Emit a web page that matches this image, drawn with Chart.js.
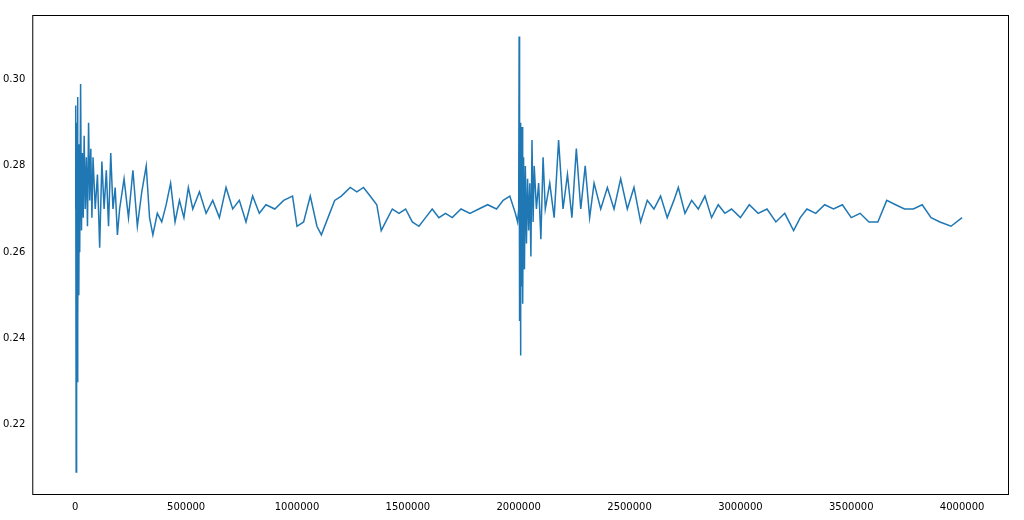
<!DOCTYPE html>
<html>
<head>
<script src="https://cdn.jsdelivr.net/npm/chart.js@4"></script>
<style>
  body { margin: 0; background: #fff; }
  #wrap { width: 1024px; height: 520px; }
</style>
</head>
<body>
<div id="wrap"><canvas id="lineChart"></canvas></div>
<script>
// x in thousands of steps
const stepsK = [0,2,4,6,8,10,12,14,16,18,20,24,28,32,36,40,45,50,55,60,65,70,75,80,90,100,110,120,130,140,150,160,170,180,190,200,220,240,260,280,300,320,335,350,370,390,410,430,450,470,490,510,530,560,590,620,650,680,710,740,770,800,830,860,900,940,980,1000,1030,1060,1090,1110,1140,1170,1200,1240,1270,1300,1330,1360,1380,1400,1430,1460,1490,1520,1550,1580,1610,1640,1670,1700,1740,1780,1820,1860,1900,1930,1960,1985,1995,2000,2002,2004,2006,2008,2010,2012,2015,2018,2022,2026,2030,2035,2040,2045,2050,2055,2060,2065,2070,2080,2090,2100,2110,2120,2140,2160,2180,2200,2220,2240,2260,2280,2300,2320,2340,2370,2400,2430,2460,2490,2520,2550,2580,2610,2640,2670,2700,2720,2750,2780,2810,2840,2870,2900,2930,2960,3000,3040,3080,3120,3160,3200,3240,3270,3300,3340,3380,3420,3460,3500,3540,3580,3620,3660,3700,3740,3780,3820,3860,3900,3950,4000];
const values = [0.27,0.294,0.209,0.29,0.23,0.296,0.243,0.285,0.25,0.28,0.26,0.299,0.265,0.283,0.268,0.287,0.27,0.282,0.266,0.29,0.272,0.284,0.268,0.282,0.27,0.278,0.261,0.281,0.27,0.279,0.266,0.283,0.27,0.275,0.264,0.27,0.277,0.268,0.279,0.266,0.274,0.28,0.268,0.264,0.269,0.267,0.271,0.276,0.267,0.272,0.268,0.275,0.27,0.274,0.269,0.272,0.268,0.275,0.27,0.272,0.267,0.273,0.269,0.271,0.27,0.272,0.273,0.266,0.267,0.273,0.266,0.264,0.268,0.272,0.273,0.275,0.274,0.275,0.273,0.271,0.265,0.267,0.27,0.269,0.27,0.267,0.266,0.268,0.27,0.268,0.269,0.268,0.27,0.269,0.27,0.271,0.27,0.272,0.273,0.269,0.267,0.27,0.31,0.244,0.29,0.236,0.287,0.252,0.289,0.248,0.282,0.256,0.28,0.262,0.277,0.265,0.276,0.259,0.286,0.267,0.28,0.27,0.276,0.263,0.282,0.27,0.276,0.268,0.286,0.27,0.278,0.268,0.284,0.27,0.28,0.268,0.276,0.27,0.275,0.27,0.277,0.27,0.275,0.267,0.272,0.27,0.273,0.268,0.272,0.275,0.269,0.272,0.27,0.273,0.268,0.271,0.269,0.27,0.268,0.271,0.269,0.27,0.267,0.269,0.265,0.268,0.27,0.269,0.271,0.27,0.271,0.268,0.269,0.267,0.267,0.272,0.271,0.27,0.27,0.271,0.268,0.267,0.266,0.268];
const yTicks = [0.22, 0.24, 0.26, 0.28, 0.30];

const points = stepsK.map((k, i) => ({ x: k * 1000, y: values[i] }));

const frame = {
  id: 'frame',
  afterDraw(chart) {
    const { ctx, chartArea: a } = chart;
    ctx.save();
    ctx.strokeStyle = '#000';
    ctx.lineWidth = 1;
    ctx.strokeRect(a.left + 0.5, a.top + 0.5, a.right - a.left, a.bottom - a.top);
    ctx.restore();
  }
};

const tickStyle = { color: '#000', font: { family: 'DejaVu Sans', size: 10 } };

new Chart(document.getElementById('lineChart'), {
  type: 'line',
  data: {
    datasets: [{
      data: points,
      borderColor: '#1f77b4',
      borderWidth: 1.5,
      pointRadius: 0,
      tension: 0
    }]
  },
  options: {
    responsive: true,
    maintainAspectRatio: false,
    animation: false,
    layout: { padding: { left: 0, right: 16, top: 15, bottom: 4 } },
    plugins: { legend: { display: false }, tooltip: { enabled: false } },
    scales: {
      x: {
        type: 'linear',
        min: -194000,
        max: 4207000,
        grid: { display: false, drawTicks: true, tickLength: 4, tickColor: '#000' },
        border: { display: false },
        afterBuildTicks: s => { s.ticks = [0,500000,1000000,1500000,2000000,2500000,3000000,3500000,4000000].map(v => ({ value: v })); },
        ticks: { ...tickStyle, maxRotation: 0, callback: v => String(v) }
      },
      y: {
        min: 0.2039,
        max: 0.315,
        grid: { display: false, drawTicks: true, tickLength: 4, tickColor: '#000' },
        border: { display: false },
        afterBuildTicks: s => { s.ticks = yTicks.map(v => ({ value: v })); },
        ticks: { ...tickStyle, callback: v => v.toFixed(2) }
      }
    }
  },
  plugins: [frame]
});
</script>
</body>
</html>
